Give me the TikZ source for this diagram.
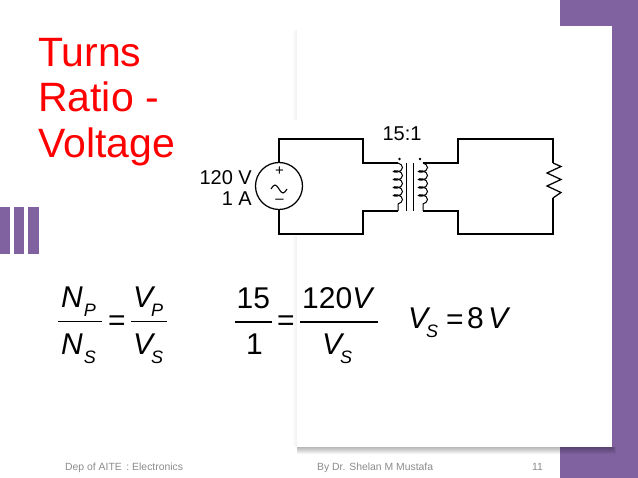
\documentclass[tikz,border=0pt]{standalone}
\usepackage{fontspec}
\setmainfont{Liberation Sans}
\usetikzlibrary{decorations.pathmorphing}
\definecolor{slidepurple}{HTML}{7F629F}
\definecolor{titlered}{HTML}{FF0000}
\definecolor{footgray}{HTML}{8C8C8C}
\newcommand{\fsize}[1]{\fontsize{#1}{#1}\selectfont}
\newcommand{\subvar}[3]{\textit{#1}\kern#3pt\raisebox{-8.5pt}{\fsize{18}\textit{#2}}}

\begin{document}
\begin{tikzpicture}[x=1pt,y=-1pt]
  \tikzstyle{band} = [fill=slidepurple, draw=none]
  \tikzstyle{e} = [line width=1.25pt, line join=miter]
  \tikzstyle{coilwire} = [line width=1pt, decorate, decoration={coil, aspect=0.55, segment length=8pt, amplitude=4.5pt}]
  \tikzstyle{lab} = [inner sep=0pt, font=\fsize{20}]
  \tikzstyle{eq} = [inner sep=0pt, anchor=base west, font=\fsize{30}]
  \tikzstyle{bar} = [line width=1.1pt]
  \tikzstyle{foot} = [inner sep=0pt, anchor=base west, text=footgray, font=\fsize{10.4}]

  \useasboundingbox (0,0) rectangle (638,478);
  \fill[white] (0,0) rectangle (638,478);

  % slide background
  \fill[band] (560,0) -- (638,0) -- (638,478) -- (560,478) -- cycle;
  \fill[band] (0,207) rectangle (10,254);
  \fill[band] (14,207) rectangle (24,254);
  \fill[band] (28,207) rectangle (39,254);

  % shadow of the panel
  \foreach \i in {1,...,4}
    \fill[black, opacity=0.012] (297-\i,30) rectangle (297,447);
  \foreach \i in {1,...,7}
    \fill[black, opacity=0.045] (297,447) rectangle (612+\i/2,447+\i);
  \fill[white] (297,26) rectangle (612,447);
  \fill[white] (560,0) -- (560,26) -- (297,26) -- (297,0) -- cycle;
  \fill[white] (200,120) rectangle (297,236);

  \node[inner sep=0pt, anchor=north west, align=left, text=titlered, font=\fontsize{41}{45.5}\selectfont](title) at (38,38){Turns\\Ratio -\\Voltage};

  % circuit
  \coordinate(p1) at (279,139);
  \coordinate(p2) at (363,139);
  \coordinate(p3) at (363,163);
  \coordinate(p4) at (398,163);
  \coordinate(p5) at (398,211);
  \coordinate(p6) at (363,211);
  \coordinate(p7) at (363,234);
  \coordinate(p8) at (279,234);
  \coordinate(s1) at (423,163);
  \coordinate(s2) at (458,163);
  \coordinate(s3) at (458,139);
  \coordinate(s4) at (553,139);
  \coordinate(s5) at (553,163);
  \coordinate(s6) at (553,198);
  \coordinate(s7) at (553,234);
  \coordinate(s8) at (458,234);
  \coordinate(s9) at (458,211);
  \coordinate(s10) at (423,211);

  \node[circle, draw, line width=1.25pt, minimum size=47pt, inner sep=0pt](src) at (279,186){};
  \node[inner sep=0pt, font=\fsize{15}](plus) at (279.5,171){+};
  \node[inner sep=0pt, font=\fsize{15}](minus) at (279.5,201.5){\char"2013};
  \draw[line width=1.1pt] (271,189) sin (275,185) cos (279,189) sin (283,193) cos (287,189);

  \draw[e](src.north)--(p1)--(p2)--(p3)--(p4);
  \draw[e](src.south)--(p8)--(p7)--(p6)--(p5);
  \draw[e](s1)--(s2)--(s3)--(s4)--(s5);
  \draw[e](s6)--(s7)--(s8)--(s9)--(s10);
  \draw[e](s5)--++(8,3.5)--++(-14,6.5)--++(14,6.5)--++(-14,6.5)--++(14,6.5)--++(-8,5.5);

  \draw[coilwire](p4)--(p5);
  \draw[coilwire](s1)--(s10);
  \draw[line width=1pt](406,163)--(406,211);
  \draw[line width=1pt](413,163)--(413,211);
  \fill (399.5,159) circle (1.4);
  \fill (420,159) circle (1.4);

  \node[lab](ratio) at (402,134){15:1};
  \node[lab, anchor=east](volt) at (252,178){120 V};
  \node[lab, anchor=east](amp) at (252,199){1 A};

  % equations
  \node[eq](np) at (61,308){\subvar{N}{P}{1}};
  \node[eq](ns) at (61,355){\subvar{N}{S}{1}};
  \node[eq](vp) at (133,308){\subvar{V}{P}{-4.5}};
  \node[eq](vs) at (133,355){\subvar{V}{S}{-4.5}};
  \node[eq](eq1) at (108,331){=};
  \draw[bar](58,321.5)--(102,321.5);
  \draw[bar](131,321.5)--(167,321.5);

  \node[eq](n15) at (236.5,309){15};
  \node[eq](n1) at (246,355){1};
  \node[eq](eq2) at (277,331){=};
  \node[eq](n120) at (302,309){120\textit{V}};
  \node[eq](vs2) at (322,355){\subvar{V}{S}{-4.5}};
  \draw[bar](235,322)--(272,322);
  \draw[bar](300,322)--(378,322);

  \node[eq](vs3) at (408,329){\subvar{V}{S}{-4.5}};
  \node[eq](eq3) at (446,330){=};
  \node[eq](n8) at (467,329){8};
  \node[eq](v8) at (488,329){\textit{V}};

  % footer
  \node[foot](dep) at (65,471){Dep of AITE\, : Electronics};
  \node[foot](by) at (317,471){By Dr. Shelan M Mustafa};
  \node[foot](page) at (532,471){11};
\end{tikzpicture}
\end{document}
